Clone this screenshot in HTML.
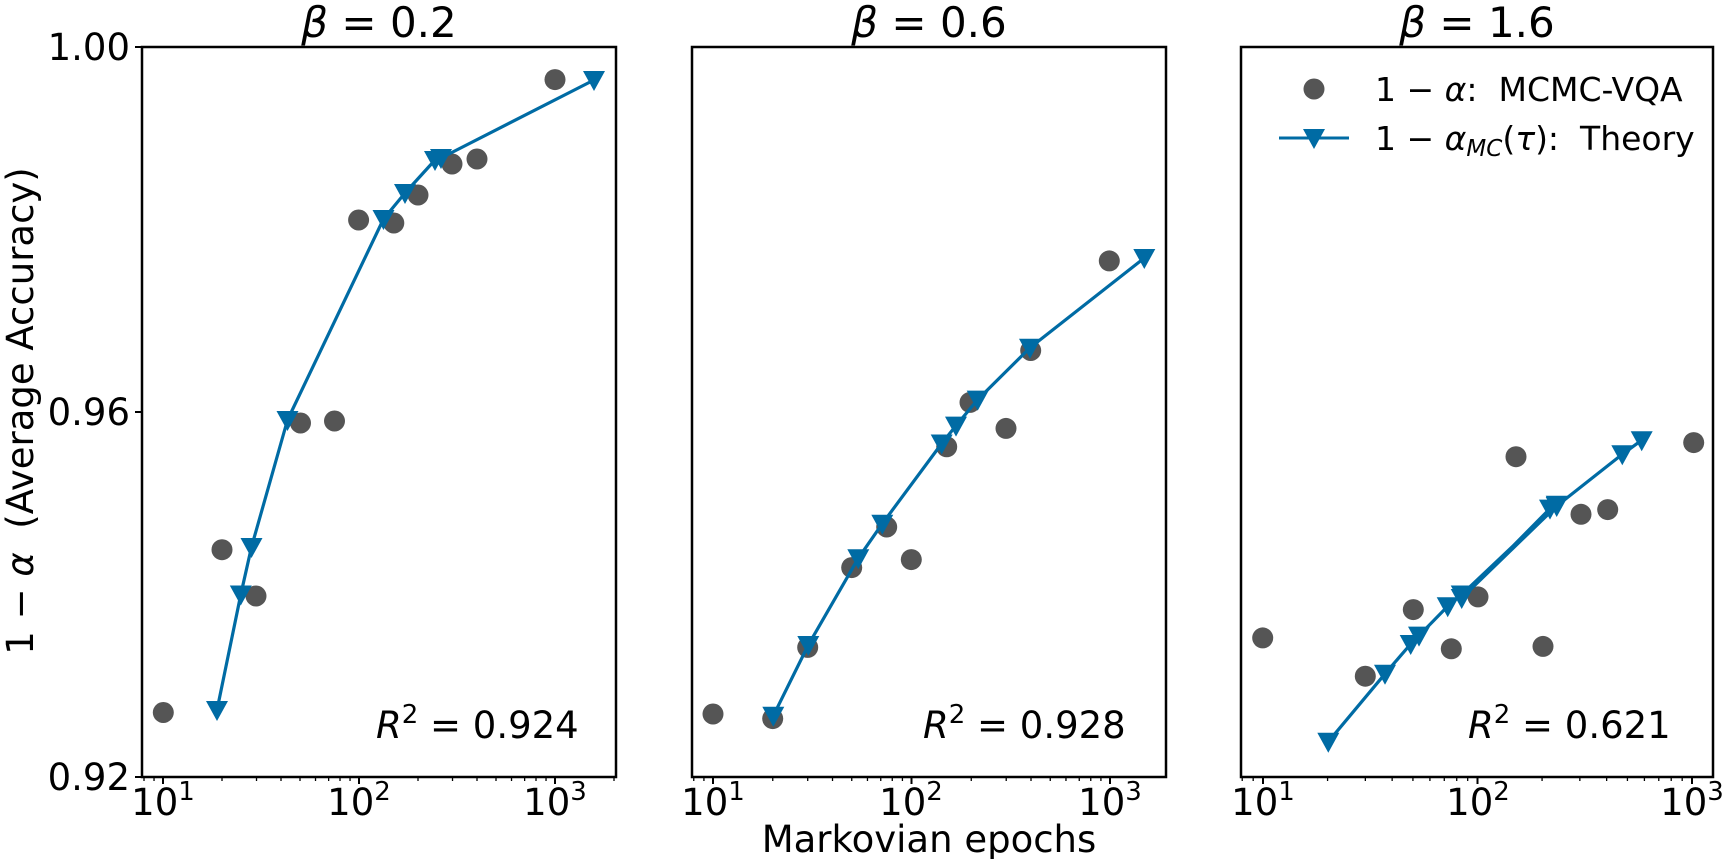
<!DOCTYPE html>
<html><head><meta charset="utf-8"><style>
html,body{margin:0;padding:0;background:#fff;}
svg{display:block;font-family:"DejaVu Sans","Liberation Sans",sans-serif;}
text{white-space:pre;}
</style></head><body>
<svg id="s" width="1725" height="859" viewBox="0 0 1725 859" xmlns="http://www.w3.org/2000/svg">
<rect width="1725" height="859" fill="#fff"/>
<g id="g"></g>
<g font-size="42" text-anchor="middle" fill="#000">
<text x="379" y="37"><tspan font-style="italic">β</tspan> = 0.2</text>
<text x="929" y="37"><tspan font-style="italic">β</tspan> = 0.6</text>
<text x="1477" y="37"><tspan font-style="italic">β</tspan> = 1.6</text>
</g>
<g font-size="37" text-anchor="end" fill="#000">
<text x="130" y="60">1.00</text>
<text x="130" y="425">0.96</text>
<text x="130" y="790">0.92</text>
</g>
<g font-size="37" fill="#000" text-anchor="middle">
<text x="163" y="815">10<tspan dy="-15" font-size="26">1</tspan></text>
<text x="359" y="815">10<tspan dy="-15" font-size="26">2</tspan></text>
<text x="555" y="815">10<tspan dy="-15" font-size="26">3</tspan></text>
<text x="713" y="815">10<tspan dy="-15" font-size="26">1</tspan></text>
<text x="911" y="815">10<tspan dy="-15" font-size="26">2</tspan></text>
<text x="1110" y="815">10<tspan dy="-15" font-size="26">3</tspan></text>
<text x="1263" y="815">10<tspan dy="-15" font-size="26">1</tspan></text>
<text x="1478" y="815">10<tspan dy="-15" font-size="26">2</tspan></text>
<text x="1692" y="815">10<tspan dy="-15" font-size="26">3</tspan></text>
</g>
<text x="929" y="852" font-size="37" text-anchor="middle">Markovian epochs</text>
<text transform="translate(33,411) rotate(-90)" font-size="37" text-anchor="middle">1 − <tspan font-style="italic">α</tspan>&#160;&#160;(Average Accuracy)</text>
<g font-size="37" fill="#000">
<text x="376" y="738"><tspan font-style="italic">R</tspan><tspan dy="-15" font-size="26">2</tspan><tspan dy="15"> = 0.924</tspan></text>
<text x="923" y="738"><tspan font-style="italic">R</tspan><tspan dy="-15" font-size="26">2</tspan><tspan dy="15"> = 0.928</tspan></text>
<text x="1468" y="738"><tspan font-style="italic">R</tspan><tspan dy="-15" font-size="26">2</tspan><tspan dy="15"> = 0.621</tspan></text>
</g>
<circle cx="1314" cy="89" r="10.5" fill="#555"/>
<line x1="1279" y1="138" x2="1349" y2="138" stroke="#006BA4" stroke-width="3"/>
<polygon points="1303,129 1325,129 1314,149" fill="#006BA4"/>
<g font-size="33" fill="#000">
<text x="1375" y="101">1 − <tspan font-style="italic">α</tspan>:&#160;&#160;MCMC-VQA</text>
<text x="1375" y="150">1 − <tspan font-style="italic">α</tspan><tspan font-style="italic" font-size="23" dy="6">MC</tspan><tspan dy="-6">(</tspan><tspan font-style="italic">τ</tspan>):&#160;&#160;Theory</text>
</g>
</svg>
<script>
var NS="http://www.w3.org/2000/svg",g=document.getElementById('g');
function el(t,a){var e=document.createElementNS(NS,t);for(var k in a)e.setAttribute(k,a[k]);g.appendChild(e);return e;}
var panels=[
 {l:142,r:616,x10:163,d:196,
  c:[[163.3,712.5],[222,549.7],[256,596],[300.5,423],[334.5,421],[358.6,220],[393.8,223],[418,195],[452,164],[477,159],[555,79.6]],
  t:[[217,710],[240.8,594.5],[251.5,547],[287.5,420],[383.5,219],[405,193],[435,160],[441,158],[594,80]]},
 {l:692,r:1166,x10:713,d:198.5,
  c:[[713,714],[772.7,718.6],[807.7,647.4],[851.7,567.6],[886.7,527],[911.3,559.6],[946.7,446.8],[970,402.4],[1006,428.4],[1030.7,350.5],[1109.3,260.9]],
  t:[[773.3,715.8],[808.3,645],[858.3,558.2],[882.3,523.7],[941.7,443.5],[956,425.6],[977.7,399.6],[1030,347.7],[1144.3,258]]},
 {l:1241,r:1713,x10:1263,d:214.5,
  c:[[1262.7,637.9],[1365.3,676.2],[1413.3,609.6],[1451.3,648.8],[1478,596.9],[1516,456.7],[1543,646.4],[1581,514.3],[1607.7,509.6],[1693.7,442.6]],
  t:[[1328.3,741.7],[1385,673.8],[1410.7,644],[1419,635.6],[1447.7,606.3],[1461.7,594.5],[1556.7,504.8],[1550,508.6],[1461.7,598],[1556.7,506],[1622.3,454.3],[1641.7,440.2]]}
];
var T=47,B=777;
panels.forEach(function(p){
 for(var e=0;e<=3;e++)for(var m=1;m<10;m++){
   var x=p.x10+p.d*(e-1+Math.log10(m));
   if(x<p.l-0.5||x>p.r+0.5)continue;
   var maj=(m===1);
   el('line',{x1:x,y1:B,x2:x,y2:B+(maj?7:4),stroke:'#000','stroke-width':maj?2:1.3});
 }
 if(p.l===142){[[T],[412],[B]].forEach(function(y){el('line',{x1:p.l-7,y1:y[0],x2:p.l,y2:y[0],stroke:'#000','stroke-width':2});});}
 p.c.forEach(function(c){el('circle',{cx:c[0],cy:c[1],r:10.5,fill:'#555'});});
 el('polyline',{points:p.t.map(function(q){return q.join(',')}).join(' '),fill:'none',stroke:'#006BA4','stroke-width':3.2,'stroke-linejoin':'round'});
 p.t.forEach(function(q){el('polygon',{points:(q[0]-11)+','+(q[1]-9)+' '+(q[0]+11)+','+(q[1]-9)+' '+q[0]+','+(q[1]+11),fill:'#006BA4'});});
 el('rect',{x:p.l,y:T,width:p.r-p.l,height:B-T,fill:'none',stroke:'#000','stroke-width':2.5});
});
</script>
</body></html>
